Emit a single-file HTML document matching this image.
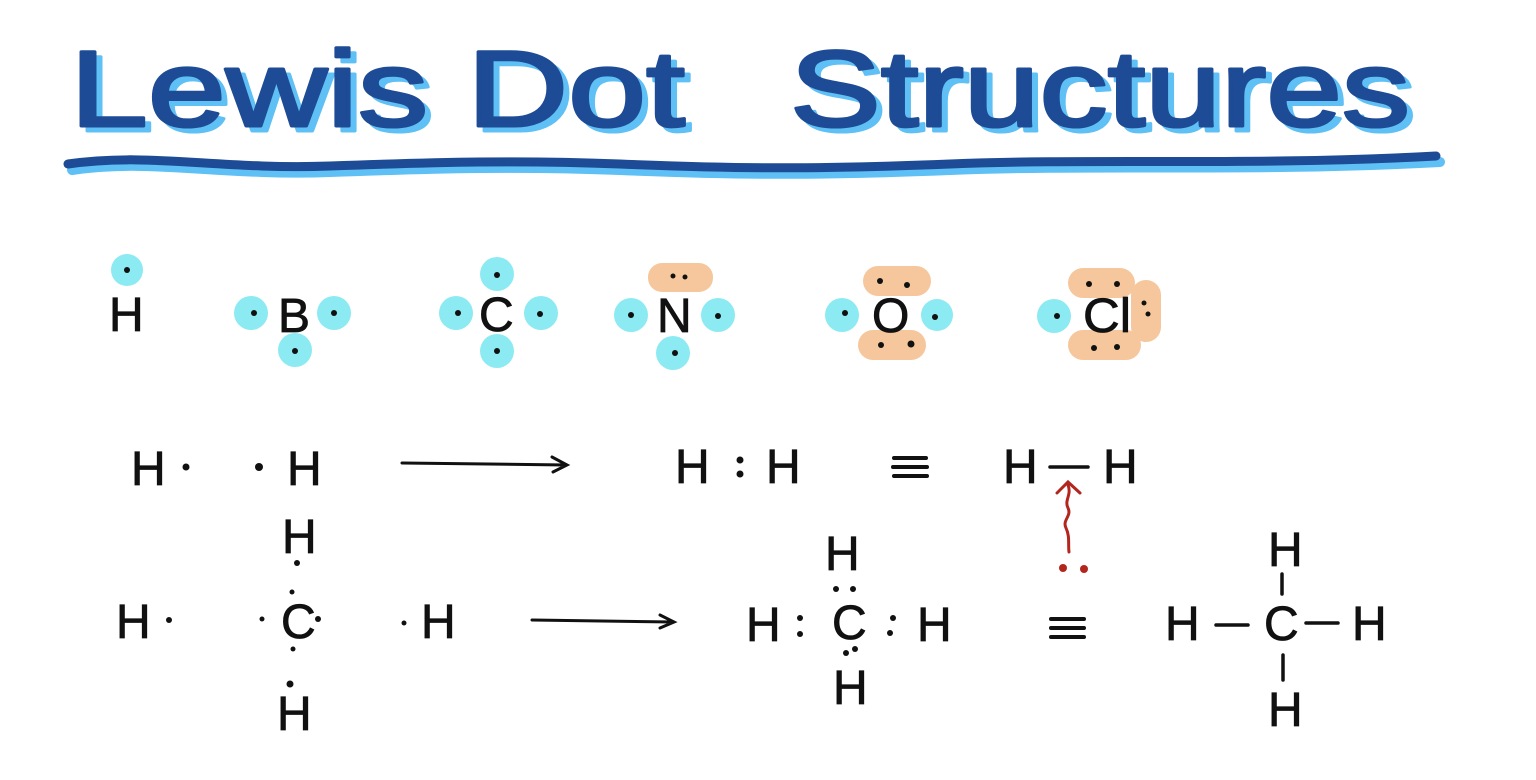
<!DOCTYPE html>
<html><head><meta charset="utf-8"><style>
html,body{margin:0;padding:0;background:#fff;}
svg{display:block;}
.t{font-family:"Liberation Sans",sans-serif;font-size:48px;fill:#111;stroke:#111;stroke-width:0.8;}
.d{fill:#111;}
</style></head><body>
<svg width="1536" height="780" viewBox="0 0 1536 780" xmlns="http://www.w3.org/2000/svg">
<rect width="1536" height="780" fill="#fff"/>
<!-- title -->
<g font-family="Liberation Sans, sans-serif" font-size="108" stroke-linejoin="round" stroke-linecap="round">
 <text x="76" y="131" textLength="615" lengthAdjust="spacingAndGlyphs" fill="#5ec0f5" stroke="#5ec0f5" stroke-width="3">Lewis Dot</text>
 <text x="796" y="131" textLength="620" lengthAdjust="spacingAndGlyphs" fill="#5ec0f5" stroke="#5ec0f5" stroke-width="3">Structures</text>
 <text x="70" y="126" textLength="615" lengthAdjust="spacingAndGlyphs" fill="#1e4b95" stroke="#1e4b95" stroke-width="3">Lewis Dot</text>
 <text x="790" y="126" textLength="620" lengthAdjust="spacingAndGlyphs" fill="#1e4b95" stroke="#1e4b95" stroke-width="3">Structures</text>
</g>
<path d="M72 170 C150 158 220 176 330 172 S520 166 620 170 S800 176 950 170 S1250 172 1440 162" stroke="#5ec0f5" stroke-width="10" fill="none" stroke-linecap="round"/>
<path d="M68 164 C150 152 220 170 330 166 S520 160 620 164 S800 170 950 164 S1250 166 1436 156" stroke="#1e4b95" stroke-width="9" fill="none" stroke-linecap="round"/>

<!-- row 1 -->
<g fill="#8ceaf2">
 <circle cx="127" cy="270" r="16"/>
 <circle cx="251" cy="313" r="17"/><circle cx="334" cy="313" r="17"/><circle cx="295" cy="350" r="17"/>
 <circle cx="456" cy="313" r="17"/><circle cx="541" cy="313" r="17"/><circle cx="497" cy="274" r="17"/><circle cx="497" cy="351" r="17"/>
 <circle cx="631" cy="315" r="17"/><circle cx="718" cy="315" r="17"/><circle cx="673" cy="353" r="17"/>
 <circle cx="842" cy="315" r="17"/><circle cx="937" cy="315" r="16"/>
 <circle cx="1054" cy="316" r="17"/>
</g>
<g fill="#f6c79c">
 <rect x="648" y="263" width="65" height="29" rx="14"/>
 <rect x="863" y="266" width="68" height="30" rx="15"/>
 <rect x="858" y="330" width="68" height="30" rx="15"/>
 <rect x="1068" y="268" width="67" height="30" rx="15"/>
 <rect x="1068" y="330" width="73" height="30" rx="15"/>
 <rect x="1131" y="280" width="30" height="62" rx="15"/>
</g>
<text class="t" x="109" y="331">H</text>
<text class="t" x="278" y="332">B</text>
<text class="t" x="479" y="331">C</text>
<text class="t" x="657" y="332">N</text>
<text class="t" x="872" y="332">O</text>
<text class="t" x="1083" y="332" textLength="48" lengthAdjust="spacingAndGlyphs">Cl</text>
<g class="d">
 <circle cx="127" cy="270" r="3"/>
 <circle cx="254" cy="313" r="3"/><circle cx="334" cy="313" r="3"/><circle cx="295" cy="351" r="3"/>
 <circle cx="458" cy="313" r="3"/><circle cx="540" cy="314" r="3"/><circle cx="497" cy="275" r="3"/><circle cx="497" cy="351" r="3"/>
 <circle cx="673" cy="276" r="2.5"/><circle cx="685" cy="277" r="2.5"/>
 <circle cx="631" cy="315" r="3"/><circle cx="718" cy="316" r="3"/><circle cx="675" cy="353" r="3"/>
 <circle cx="880" cy="281" r="3"/><circle cx="907" cy="285" r="3"/>
 <circle cx="881" cy="345" r="3"/><circle cx="911" cy="344" r="3.5"/>
 <circle cx="845" cy="313" r="3"/><circle cx="935" cy="317" r="3"/>
 <circle cx="1057" cy="316" r="3"/>
 <circle cx="1089" cy="284" r="3"/><circle cx="1117" cy="284" r="3"/>
 <circle cx="1144" cy="303" r="2.5"/><circle cx="1148" cy="314" r="2.5"/>
 <circle cx="1094" cy="348" r="3"/><circle cx="1117" cy="347" r="3"/>
</g>

<!-- row H2 -->
<text class="t" x="131" y="485">H</text>
<circle class="d" cx="186" cy="467" r="3.5"/>
<circle class="d" cx="259" cy="467" r="4"/>
<text class="t" x="287" y="485">H</text>
<path d="M402 463 L566 465 M552 457 L567 465 L553 472" stroke="#111" stroke-width="3" fill="none" stroke-linecap="round"/>
<text class="t" x="675" y="483">H</text>
<circle class="d" cx="740" cy="460" r="3.5"/><circle class="d" cx="740" cy="474" r="3.5"/>
<text class="t" x="766" y="483">H</text>
<path d="M894 458 H926 M893 467 H927 M894 476 H927" stroke="#111" stroke-width="4" stroke-linecap="round"/>
<text class="t" x="1003" y="483">H</text>
<path d="M1050 467 H1088" stroke="#111" stroke-width="3.5" stroke-linecap="round"/>
<text class="t" x="1103" y="483">H</text>
<path d="M1057 493 L1068 482 L1080 493 M1068 485 C1072 495 1064 500 1068 508 C1072 516 1062 520 1066 528 C1070 536 1068 545 1069 552" stroke="#b3261e" stroke-width="3" fill="none" stroke-linecap="round"/>
<circle cx="1063" cy="568" r="4" fill="#b3261e"/><circle cx="1084" cy="569" r="4" fill="#b3261e"/>

<!-- row CH4 -->
<text class="t" x="116" y="638">H</text>
<circle class="d" cx="169" cy="620" r="3"/>
<text class="t" x="282" y="553" font-size="38">H</text>
<circle class="d" cx="297" cy="563" r="3"/>
<circle class="d" cx="292" cy="592" r="2.5"/>
<circle class="d" cx="262" cy="619" r="2.5"/>
<text class="t" x="281" y="638">C</text>
<circle class="d" cx="318" cy="619" r="3"/>
<circle class="d" cx="293" cy="649" r="2.5"/>
<circle class="d" cx="290" cy="684" r="3.5"/>
<text class="t" x="277" y="730" font-size="38">H</text>
<circle class="d" cx="404" cy="623" r="2.5"/>
<text class="t" x="421" y="638">H</text>
<path d="M532 620 L673 622 M660 615 L674 622 L660 628" stroke="#111" stroke-width="3" fill="none" stroke-linecap="round"/>

<text class="t" x="825" y="570" font-size="42">H</text>
<circle class="d" cx="836" cy="589" r="3"/><circle class="d" cx="853" cy="589" r="3"/>
<text class="t" x="746" y="641">H</text>
<circle class="d" cx="800" cy="618" r="3"/><circle class="d" cx="800" cy="634" r="3"/>
<text class="t" x="832" y="639">C</text>
<circle class="d" cx="855" cy="649" r="3"/><circle class="d" cx="846" cy="653" r="3"/>
<circle class="d" cx="893" cy="618" r="3"/><circle class="d" cx="890" cy="633" r="3"/>
<text class="t" x="917" y="641">H</text>
<text class="t" x="833" y="704" font-size="42">H</text>
<path d="M1051 619 H1084 M1051 628 H1084 M1051 637 H1084" stroke="#111" stroke-width="4" stroke-linecap="round"/>
<text class="t" x="1165" y="640">H</text>
<path d="M1216 625 H1248 M1306 623 H1338" stroke="#111" stroke-width="3.5" stroke-linecap="round"/>
<text class="t" x="1264" y="640">C</text>
<text class="t" x="1352" y="640">H</text>
<text class="t" x="1268" y="566" font-size="40">H</text>
<path d="M1282 574 V594 M1283 655 V680" stroke="#111" stroke-width="3.5" stroke-linecap="round"/>
<text class="t" x="1268" y="726" font-size="40">H</text>
</svg>
</body></html>
